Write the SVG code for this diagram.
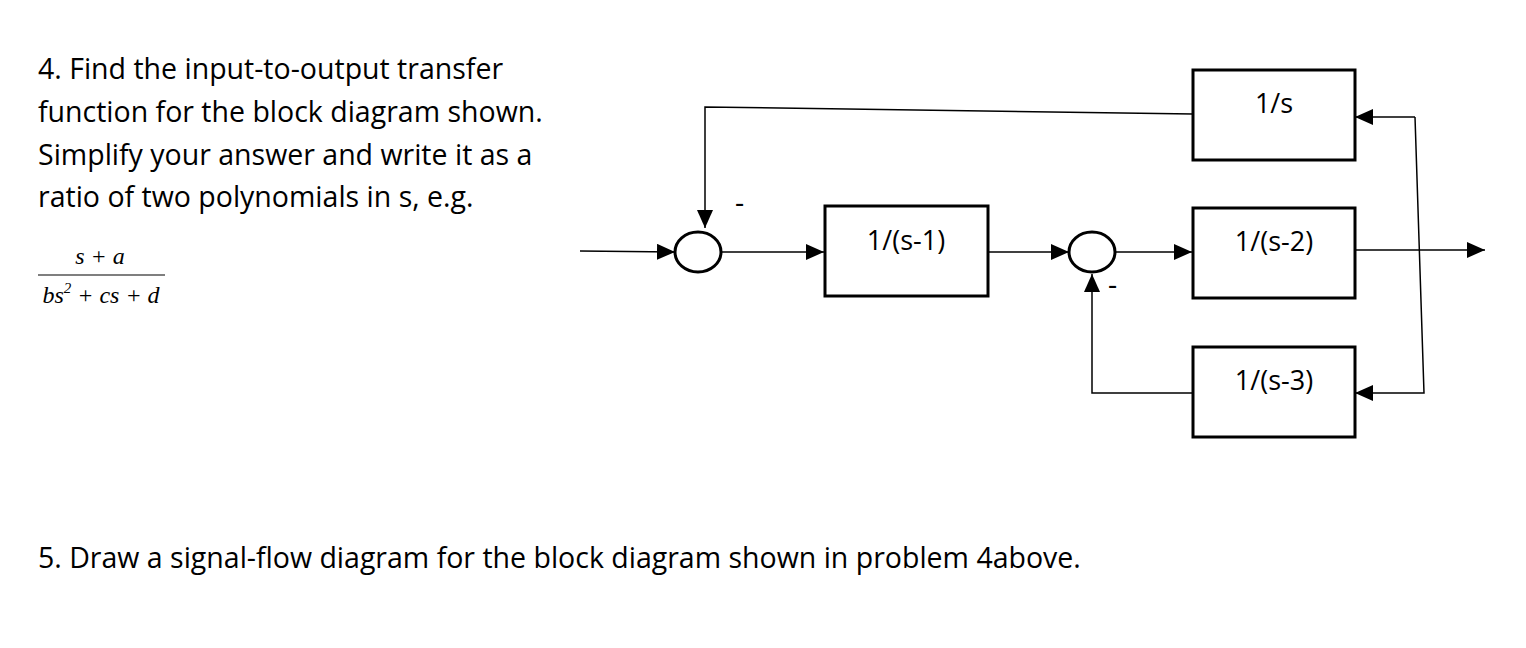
<svg xmlns="http://www.w3.org/2000/svg" width="1526" height="648" viewBox="0 0 1526 648">
<style>
.t{font-family:"Open Sans","Liberation Sans",sans-serif;font-size:28.5px;fill:#000}
.b{font-family:"Open Sans","Liberation Sans",sans-serif;font-size:27px;fill:#000;text-anchor:middle}
.m{font-family:"Liberation Serif",serif;font-style:italic;font-size:24px;fill:#000;text-anchor:middle}
.box{fill:#fff;stroke:#000;stroke-width:3}
.w{fill:none;stroke:#000;stroke-width:1.5}
</style>
<defs><marker id="a" markerWidth="20" markerHeight="16" refX="18" refY="8" orient="auto" markerUnits="userSpaceOnUse"><path d="M0,0L18,8L0,16z"/></marker></defs>
<rect width="1526" height="648" fill="#fff"/>
<text class="t" x="38" y="79">4. Find the input-to-output transfer</text>
<text class="t" x="38" y="122">function for the block diagram shown.</text>
<text class="t" x="38" y="165">Simplify your answer and write it as a</text>
<text class="t" x="38" y="207">ratio of two polynomials in s, e.g.</text>
<text class="m" x="100" y="264">s + a</text>
<line x1="38" y1="275" x2="165" y2="275" stroke="#000" stroke-width="1.2"/>
<text class="m" x="101" y="303">bs<tspan font-size="15" dy="-10">2</tspan><tspan dy="10"> + cs + d</tspan></text>
<text class="t" x="38" y="568">5. Draw a signal-flow diagram for the block diagram shown in problem 4above.</text>
<g id="connectors" class="w">
<path d="M580,251 L675,252" marker-end="url(#a)"/>
<path d="M721,252 L824,252" marker-end="url(#a)"/>
<path d="M988,252 L1069,252" marker-end="url(#a)"/>
<path d="M1115,252 L1192,252" marker-end="url(#a)"/>
<path d="M1355,250 L1485,250" marker-end="url(#a)"/>
<path d="M1193,114 L705,107 L705,228" marker-end="url(#a)"/>
<path d="M1415,117 L1355,117" marker-end="url(#a)"/>
<path d="M1415,117 L1424,393 L1355,393" marker-end="url(#a)"/>
<path d="M1193,393 L1092,393 L1092,274" marker-end="url(#a)"/>
</g>
<g id="sum1"><ellipse class="box" cx="698" cy="252" rx="23" ry="20"/></g>
<g id="sum2"><ellipse class="box" cx="1092" cy="252" rx="23" ry="20"/></g>
<text class="t" x="735" y="213">-</text>
<text class="t" x="1108" y="295">-</text>
<g id="g1"><rect class="box" x="825" y="206" width="163" height="90"/><text class="b" x="906" y="250">1/(s-1)</text></g>
<g id="g0"><rect class="box" x="1193" y="70" width="162" height="90"/><text class="b" x="1274" y="113">1/s</text></g>
<g id="g2"><rect class="box" x="1193" y="208" width="162" height="90"/><text class="b" x="1274" y="251">1/(s-2)</text></g>
<g id="g3"><rect class="box" x="1193" y="347" width="162" height="90"/><text class="b" x="1274" y="390">1/(s-3)</text></g>
</svg>
